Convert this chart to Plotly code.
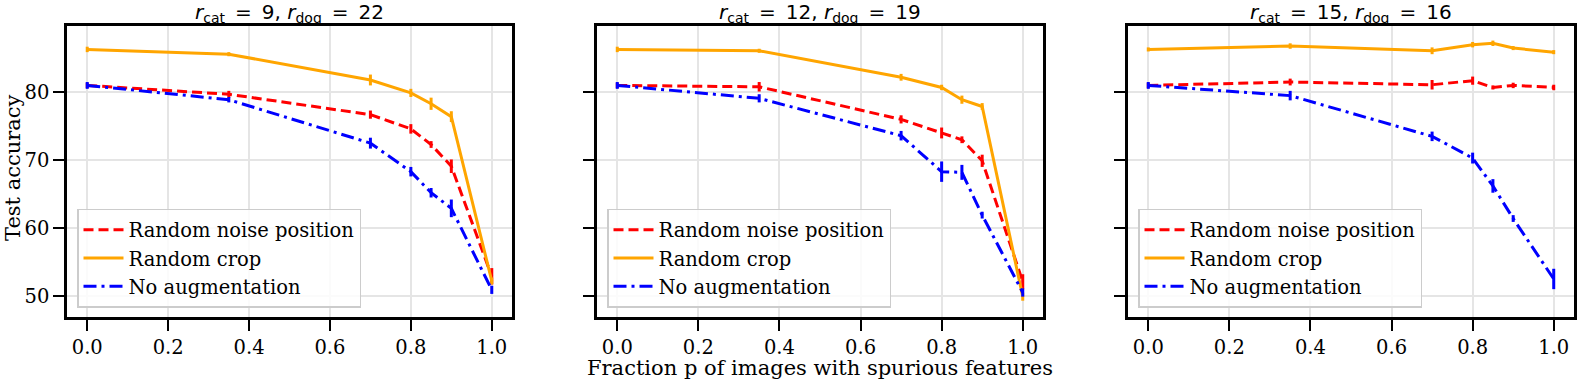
import plotly.graph_objects as go

x_vals = [0.0, 0.35, 0.7, 0.8, 0.85, 0.9, 1.0]

titles = ["<i>r</i><sub>cat</sub>\u2002=\u20029, <i>r</i><sub>dog</sub>\u2002=\u200222",
          "<i>r</i><sub>cat</sub>\u2002=\u200212, <i>r</i><sub>dog</sub>\u2002=\u200219",
          "<i>r</i><sub>cat</sub>\u2002=\u200215, <i>r</i><sub>dog</sub>\u2002=\u200216"]

series_names = ["Random noise position", "Random crop", "No augmentation"]
x_title = "Fraction p of images with spurious features"
y_title = "Test accuracy"

# Panel 1
p1_noise = [81.0, 79.7, 76.7, 74.6, 72.3, 69.1, 52.9]
p1_noise_err = [0.4, 0.5, 0.6, 0.7, 0.5, 1.0, 1.2]
p1_crop = [86.3, 85.6, 81.8, 79.9, 78.3, 76.4, 52.2]
p1_crop_err = [0.4, 0.3, 0.8, 0.6, 0.9, 0.8, 0.5]
p1_none = [81.0, 78.9, 72.5, 68.3, 65.2, 62.9, 50.9]
p1_none_err = [0.5, 0.4, 0.8, 0.7, 0.7, 1.3, 0.6]

# Panel 2
p2_noise = [81.0, 80.8, 76.0, 74.0, 73.0, 69.9, 52.1]
p2_noise_err = [0.4, 0.7, 0.6, 0.8, 0.5, 0.9, 1.1]
p2_crop = [86.3, 86.1, 82.2, 80.7, 78.9, 77.9, 49.9]
p2_crop_err = [0.4, 0.3, 0.5, 0.4, 0.6, 0.5, 0.6]
p2_none = [81.0, 79.1, 73.6, 68.3, 68.2, 61.9, 50.5]
p2_none_err = [0.5, 0.6, 0.7, 1.5, 1.1, 0.5, 0.6]

# Panel 3
p3_noise = [81.0, 81.5, 81.1, 81.7, 80.7, 81.0, 80.7]
p3_noise_err = [0.4, 0.5, 0.7, 0.6, 0.3, 0.4, 0.4]
p3_crop = [86.3, 86.8, 86.1, 87.0, 87.2, 86.5, 85.9]
p3_crop_err = [0.3, 0.4, 0.5, 0.4, 0.4, 0.3, 0.3]
p3_none = [81.0, 79.5, 73.5, 70.3, 66.2, 61.4, 52.5]
p3_none_err = [0.5, 0.7, 0.7, 0.8, 1.0, 0.5, 1.5]

panels = [
    (p1_noise, p1_noise_err, p1_crop, p1_crop_err, p1_none, p1_none_err),
    (p2_noise, p2_noise_err, p2_crop, p2_crop_err, p2_none, p2_none_err),
    (p3_noise, p3_noise_err, p3_crop, p3_crop_err, p3_none, p3_none_err),
]

colors = ["#ff0000", "#ffa500", "#0000ff"]
dashes = ["10px,5px", "solid", "13px,5px,3px,5px"]

W, H = 1585, 381
ml, mr, mt, mb = 67, 11, 26, 64
pw = W - ml - mr
ph = H - mt - mb
domains = [(0.0, 445 / pw), ((597 - ml) / pw, (1043 - ml) / pw), ((1128 - ml) / pw, 1.0)]

serif = "DejaVu Serif"
FS = 19.5
FT = 21
fig = go.Figure()
legend_names = ["legend", "legend2", "legend3"]

for i, pdata in enumerate(panels):
    xa = "x" if i == 0 else f"x{i+1}"
    ya = "y" if i == 0 else f"y{i+1}"
    ys = [pdata[0], pdata[2], pdata[4]]
    es = [pdata[1], pdata[3], pdata[5]]
    for k in range(3):
        fig.add_trace(go.Scatter(
            x=x_vals, y=ys[k], mode="lines", name=series_names[k],
            line=dict(color=colors[k], width=3, dash=dashes[k]),
            error_y=dict(type="data", array=es[k], width=0, thickness=3, color=colors[k]),
            xaxis=xa, yaxis=ya, legend=legend_names[i], showlegend=True,
        ))

axis_common = dict(
    showline=True, mirror=True, linecolor="black", linewidth=2.5,
    ticks="outside", ticklen=11, tickwidth=2.4, tickcolor="black",
    showgrid=True, gridcolor="#e5e5e5", gridwidth=1.6, zeroline=False,
    tickfont=dict(family=serif, size=FS, color="black"), automargin=False,
)

layout = dict(
    width=W, height=H,
    margin=dict(l=ml, r=mr, t=mt, b=mb, autoexpand=False),
    paper_bgcolor="white", plot_bgcolor="white",
    font=dict(family=serif, size=FS, color="black"),
)

for i in range(3):
    xkey = "xaxis" if i == 0 else f"xaxis{i+1}"
    ykey = "yaxis" if i == 0 else f"yaxis{i+1}"
    ya = "y" if i == 0 else f"y{i+1}"
    xa = "x" if i == 0 else f"x{i+1}"
    layout[xkey] = dict(axis_common, domain=list(domains[i]), anchor=ya,
                        range=[-0.05, 1.05], tickvals=[0, 0.2, 0.4, 0.6, 0.8, 1.0],
                        ticktext=["0.0", "0.2", "0.4", "0.6", "0.8", "1.0"])
    layout[ykey] = dict(axis_common, domain=[0, 1], anchor=xa,
                        range=[46.9, 89.75], tickvals=[50, 60, 70, 80],
                        showticklabels=(i == 0))
    lkey = legend_names[i]
    layout[lkey] = dict(
        x=domains[i][0] + 10 / pw, y=0.031, xanchor="left", yanchor="bottom",
        bgcolor="rgba(255,255,255,0.85)", bordercolor="#cccccc", borderwidth=1.5,
        font=dict(family=serif, size=FS, color="black"), itemwidth=40,
    )

fig.update_layout(**layout)

for i in range(3):
    fig.add_annotation(
        text=titles[i], xref="paper", yref="paper",
        x=(domains[i][0] + domains[i][1]) / 2, y=1 + 13 / ph,
        xanchor="center", yanchor="middle", showarrow=False,
        font=dict(family="DejaVu Sans", size=20, color="black"),
    )

# axis titles
fig.add_annotation(
    text=x_title, xref="paper", yref="paper",
    x=(domains[1][0] + domains[1][1]) / 2, y=(317 - 368) / ph,
    xanchor="center", yanchor="middle", showarrow=False,
    font=dict(family=serif, size=FT, color="black"),
)
fig.add_annotation(
    text=y_title, xref="paper", yref="paper",
    x=(13 - ml) / pw, y=(317 - 167) / ph, textangle=-90,
    xanchor="center", yanchor="middle", showarrow=False,
    font=dict(family=serif, size=FT, color="black"),
)

fig.write_html("out.html", config={"displayModeBar": False},
               post_script="document.body.style.margin='0px';document.body.style.overflow='hidden';")
